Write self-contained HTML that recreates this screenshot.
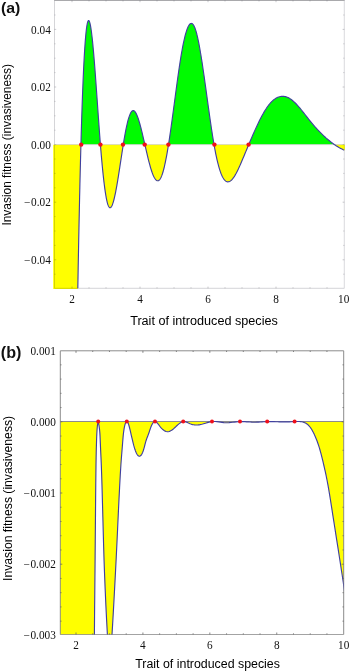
<!DOCTYPE html>
<html lang="en"><head><meta charset="utf-8"><title>Invasion fitness</title>
<style>html,body{margin:0;padding:0;background:#fff}body{width:350px;height:671px;overflow:hidden}svg{display:block}.t{font-family:"Liberation Serif",serif;font-size:11.8px;fill:#111}.l{font-family:"Liberation Sans",sans-serif;font-size:12.3px;fill:#000}.p{font-family:"Liberation Sans",sans-serif;font-weight:700;font-size:15.8px;fill:#111}</style></head><body>
<svg width="350" height="671" viewBox="0 0 350 671">
<rect width="350" height="671" fill="#fff"/>
<clipPath id="ca"><rect x="54.5" y="0.5" width="289.8" height="287.8"/></clipPath>
<clipPath id="upa"><rect x="54.5" y="0.5" width="289.8" height="144.1"/></clipPath>
<clipPath id="dna"><rect x="53.2" y="144.6" width="291.6" height="144.4"/></clipPath>
<path d="M52.2 144.6 L77.6 144.6 L77.65 144.6 L77.7 144.6 L77.75 144.6 L77.8 144.6 L77.85 144.6 L77.9 144.6 L77.95 144.6 L78 144.6 L78.17 144.6 L78.35 144.6 L78.53 144.6 L78.7 144.6 L78.88 144.6 L79.05 144.6 L79.23 144.6 L79.4 144.6 L79.48 144.6 L79.55 144.6 L79.62 144.6 L79.7 144.6 L79.78 144.6 L79.85 144.6 L79.92 144.6 L80 144.6 L80.15 144.6 L80.3 144.6 L80.45 144.6 L80.6 144.6 L80.75 144.6 L80.9 144.6 L81.05 140.24 L81.2 135.03 L81.25 133.33 L81.3 131.64 L81.35 129.96 L81.4 128.3 L81.45 126.65 L81.5 125.02 L81.55 123.4 L81.6 121.8 L81.77 116.31 L81.95 110.99 L82.12 105.85 L82.3 100.89 L82.47 96.09 L82.65 91.47 L82.83 87.01 L83 82.72 L83.06 81.22 L83.12 79.75 L83.19 78.3 L83.25 76.87 L83.31 75.46 L83.38 74.07 L83.44 72.7 L83.5 71.35 L83.67 67.68 L83.85 64.16 L84.03 60.79 L84.2 57.58 L84.38 54.52 L84.55 51.6 L84.73 48.83 L84.9 46.21 L85.04 44.24 L85.18 42.36 L85.31 40.57 L85.45 38.86 L85.59 37.23 L85.72 35.69 L85.86 34.23 L86 32.84 L86.14 31.54 L86.28 30.31 L86.41 29.17 L86.55 28.1 L86.69 27.1 L86.82 26.18 L86.96 25.33 L87.1 24.56 L87.27 23.67 L87.45 22.9 L87.62 22.25 L87.8 21.7 L87.97 21.26 L88.15 20.93 L88.33 20.7 L88.5 20.57 L88.71 20.55 L88.92 20.68 L89.14 20.95 L89.35 21.35 L89.56 21.89 L89.78 22.56 L89.99 23.35 L90.2 24.27 L90.36 25.05 L90.53 25.9 L90.69 26.82 L90.85 27.81 L91.01 28.85 L91.17 29.96 L91.34 31.13 L91.5 32.36 L91.67 33.75 L91.85 35.2 L92.03 36.72 L92.2 38.29 L92.38 39.93 L92.55 41.62 L92.73 43.37 L92.9 45.17 L93.16 47.96 L93.43 50.86 L93.69 53.86 L93.95 56.96 L94.21 60.15 L94.47 63.41 L94.74 66.75 L95 70.16 L95.08 71.15 L95.15 72.14 L95.22 73.13 L95.3 74.13 L95.38 75.14 L95.45 76.15 L95.52 77.16 L95.6 78.18 L96.07 84.69 L96.55 91.32 L97.03 98.03 L97.5 104.77 L97.97 111.5 L98.45 118.18 L98.93 124.79 L99.4 131.27 L99.51 132.78 L99.62 134.28 L99.74 135.77 L99.85 137.25 L99.96 138.72 L100.08 140.18 L100.19 141.63 L100.3 143.06 L100.51 144.6 L100.72 144.6 L100.94 144.6 L101.15 144.6 L101.36 144.6 L101.58 144.6 L101.79 144.6 L102 144.6 L102.1 144.6 L102.2 144.6 L102.3 144.6 L102.4 144.6 L102.5 144.6 L102.6 144.6 L102.7 144.6 L102.8 144.6 L102.99 144.6 L103.17 144.6 L103.36 144.6 L103.55 144.6 L103.74 144.6 L103.92 144.6 L104.11 144.6 L104.3 144.6 L104.55 144.6 L104.8 144.6 L105.05 144.6 L105.3 144.6 L105.55 144.6 L105.8 144.6 L106.05 144.6 L106.3 144.6 L106.47 144.6 L106.65 144.6 L106.83 144.6 L107 144.6 L107.17 144.6 L107.35 144.6 L107.53 144.6 L107.7 144.6 L107.99 144.6 L108.28 144.6 L108.56 144.6 L108.85 144.6 L109.14 144.6 L109.42 144.6 L109.71 144.6 L110 144.6 L110.33 144.6 L110.65 144.6 L110.97 144.6 L111.3 144.6 L111.62 144.6 L111.95 144.6 L112.27 144.6 L112.6 144.6 L112.85 144.6 L113.1 144.6 L113.35 144.6 L113.6 144.6 L113.85 144.6 L114.1 144.6 L114.35 144.6 L114.6 144.6 L114.92 144.6 L115.25 144.6 L115.58 144.6 L115.9 144.6 L116.22 144.6 L116.55 144.6 L116.88 144.6 L117.2 144.6 L117.38 144.6 L117.55 144.6 L117.72 144.6 L117.9 144.6 L118.08 144.6 L118.25 144.6 L118.42 144.6 L118.6 144.6 L119.15 144.6 L119.7 144.6 L120.25 144.6 L120.8 144.6 L121.35 144.6 L121.9 144.6 L122.45 144.6 L123 144.6 L123.38 143.98 L123.75 141.69 L124.12 139.44 L124.5 137.25 L124.88 135.12 L125.25 133.06 L125.62 131.08 L126 129.17 L126.5 126.76 L127 124.51 L127.5 122.41 L128 120.48 L128.5 118.71 L129 117.11 L129.5 115.68 L130 114.41 L130.38 113.58 L130.75 112.85 L131.12 112.22 L131.5 111.69 L131.88 111.26 L132.25 110.93 L132.62 110.71 L133 110.6 L133.44 110.6 L133.88 110.74 L134.31 111.02 L134.75 111.43 L135.19 111.96 L135.62 112.61 L136.06 113.37 L136.5 114.24 L137.06 115.51 L137.62 116.95 L138.19 118.52 L138.75 120.24 L139.31 122.08 L139.88 124.03 L140.44 126.09 L141 128.23 L141.46 130.06 L141.93 131.93 L142.39 133.84 L142.85 135.79 L143.31 137.77 L143.77 139.77 L144.24 141.78 L144.7 143.81 L145.4 144.6 L146.1 144.6 L146.8 144.6 L147.5 144.6 L148.2 144.6 L148.9 144.6 L149.6 144.6 L150.3 144.6 L150.76 144.6 L151.23 144.6 L151.69 144.6 L152.15 144.6 L152.61 144.6 L153.07 144.6 L153.54 144.6 L154 144.6 L154.45 144.6 L154.9 144.6 L155.35 144.6 L155.8 144.6 L156.25 144.6 L156.7 144.6 L157.15 144.6 L157.6 144.6 L158.03 144.6 L158.45 144.6 L158.88 144.6 L159.3 144.6 L159.72 144.6 L160.15 144.6 L160.57 144.6 L161 144.6 L161.47 144.6 L161.95 144.6 L162.43 144.6 L162.9 144.6 L163.38 144.6 L163.85 144.6 L164.33 144.6 L164.8 144.6 L165.25 144.6 L165.7 144.6 L166.15 144.6 L166.6 144.6 L167.05 144.6 L167.5 144.6 L167.95 144.6 L168.4 144.6 L168.9 142.08 L169.4 138.81 L169.9 135.45 L170.4 132.02 L170.9 128.51 L171.4 124.95 L171.9 121.33 L172.4 117.66 L172.85 114.34 L173.3 110.98 L173.75 107.62 L174.2 104.24 L174.65 100.86 L175.1 97.48 L175.55 94.11 L176 90.76 L176.2 89.27 L176.4 87.8 L176.6 86.32 L176.8 84.85 L177 83.39 L177.2 81.93 L177.4 80.49 L177.6 79.05 L178.15 75.13 L178.7 71.3 L179.25 67.55 L179.8 63.9 L180.35 60.36 L180.9 56.94 L181.45 53.66 L182 50.52 L182.62 47.14 L183.25 43.97 L183.88 41 L184.5 38.26 L185.12 35.73 L185.75 33.42 L186.38 31.34 L187 29.5 L187.5 28.19 L188 27.03 L188.5 26.04 L189 25.2 L189.5 24.51 L190 23.99 L190.5 23.64 L191 23.45 L191.56 23.44 L192.12 23.65 L192.69 24.07 L193.25 24.72 L193.81 25.6 L194.38 26.7 L194.94 28.03 L195.5 29.6 L196.14 31.67 L196.78 34.02 L197.41 36.65 L198.05 39.53 L198.69 42.64 L199.32 45.98 L199.96 49.52 L200.6 53.24 L201.07 56.13 L201.55 59.1 L202.03 62.15 L202.5 65.28 L202.97 68.46 L203.45 71.71 L203.93 75 L204.4 78.34 L205.05 82.97 L205.7 87.65 L206.35 92.36 L207 97.09 L207.65 101.82 L208.3 106.53 L208.95 111.2 L209.6 115.83 L210.2 120.03 L210.8 124.17 L211.4 128.22 L212 132.16 L212.6 136 L213.2 139.71 L213.8 143.28 L214.4 144.6 L214.72 144.6 L215.05 144.6 L215.38 144.6 L215.7 144.6 L216.03 144.6 L216.35 144.6 L216.68 144.6 L217 144.6 L217.5 144.6 L218 144.6 L218.5 144.6 L219 144.6 L219.5 144.6 L220 144.6 L220.5 144.6 L221 144.6 L221.44 144.6 L221.88 144.6 L222.31 144.6 L222.75 144.6 L223.19 144.6 L223.62 144.6 L224.06 144.6 L224.5 144.6 L224.94 144.6 L225.38 144.6 L225.81 144.6 L226.25 144.6 L226.69 144.6 L227.12 144.6 L227.56 144.6 L228 144.6 L228.5 144.6 L229 144.6 L229.5 144.6 L230 144.6 L230.5 144.6 L231 144.6 L231.5 144.6 L232 144.6 L232.75 144.6 L233.5 144.6 L234.25 144.6 L235 144.6 L235.75 144.6 L236.5 144.6 L237.25 144.6 L238 144.6 L238.62 144.6 L239.25 144.6 L239.88 144.6 L240.5 144.6 L241.12 144.6 L241.75 144.6 L242.38 144.6 L243 144.6 L243.7 144.6 L244.4 144.6 L245.1 144.6 L245.8 144.6 L246.5 144.6 L247.2 144.6 L247.9 144.6 L248.6 144.6 L249.62 142.48 L250.65 140.06 L251.68 137.66 L252.7 135.29 L253.72 132.95 L254.75 130.64 L255.78 128.37 L256.8 126.15 L257.15 125.4 L257.5 124.66 L257.85 123.92 L258.2 123.19 L258.55 122.47 L258.9 121.75 L259.25 121.04 L259.6 120.34 L260.78 118.03 L261.95 115.81 L263.12 113.69 L264.3 111.66 L265.48 109.75 L266.65 107.95 L267.82 106.27 L269 104.72 L269.75 103.8 L270.5 102.93 L271.25 102.12 L272 101.37 L272.75 100.67 L273.5 100.02 L274.25 99.42 L275 98.88 L275.93 98.29 L276.85 97.77 L277.77 97.33 L278.7 96.97 L279.62 96.69 L280.55 96.49 L281.47 96.36 L282.4 96.31 L283.35 96.33 L284.3 96.44 L285.25 96.62 L286.2 96.88 L287.15 97.21 L288.1 97.62 L289.05 98.11 L290 98.67 L291.25 99.53 L292.5 100.49 L293.75 101.57 L295 102.75 L296.25 104.01 L297.5 105.35 L298.75 106.76 L300 108.23 L301.25 109.75 L302.5 111.3 L303.75 112.88 L305 114.48 L306.25 116.08 L307.5 117.68 L308.75 119.27 L310 120.84 L311.25 122.38 L312.5 123.88 L313.75 125.35 L315 126.78 L316.25 128.18 L317.5 129.55 L318.75 130.88 L320 132.18 L321.25 133.45 L322.5 134.67 L323.75 135.87 L325 137.02 L326.25 138.15 L327.5 139.23 L328.75 140.28 L330 141.29 L330.55 141.73 L331.1 142.16 L331.65 142.58 L332.2 142.99 L332.75 143.39 L333.3 143.79 L333.85 144.18 L334.4 144.57 L335.66 144.6 L336.92 144.6 L338.19 144.6 L339.45 144.6 L340.71 144.6 L341.98 144.6 L343.24 144.6 L344.5 144.6 L345.8 144.6 L345.8 144.6 L52.2 144.6 Z" fill="#00fb00" clip-path="url(#upa)"/>
<path d="M52.2 300.42 L77.6 300.42 L77.65 297.51 L77.7 294.62 L77.75 291.74 L77.8 288.88 L77.85 286.04 L77.9 283.22 L77.95 280.42 L78 277.64 L78.17 268.04 L78.35 258.65 L78.53 249.49 L78.7 240.54 L78.88 231.8 L79.05 223.28 L79.23 214.97 L79.4 206.86 L79.48 203.45 L79.55 200.07 L79.62 196.74 L79.7 193.44 L79.78 190.18 L79.85 186.95 L79.92 183.76 L80 180.61 L80.15 174.42 L80.3 168.37 L80.45 162.46 L80.6 156.7 L80.75 151.07 L80.9 145.59 L81.05 144.6 L81.2 144.6 L81.25 144.6 L81.3 144.6 L81.35 144.6 L81.4 144.6 L81.45 144.6 L81.5 144.6 L81.55 144.6 L81.6 144.6 L81.77 144.6 L81.95 144.6 L82.12 144.6 L82.3 144.6 L82.47 144.6 L82.65 144.6 L82.83 144.6 L83 144.6 L83.06 144.6 L83.12 144.6 L83.19 144.6 L83.25 144.6 L83.31 144.6 L83.38 144.6 L83.44 144.6 L83.5 144.6 L83.67 144.6 L83.85 144.6 L84.03 144.6 L84.2 144.6 L84.38 144.6 L84.55 144.6 L84.73 144.6 L84.9 144.6 L85.04 144.6 L85.18 144.6 L85.31 144.6 L85.45 144.6 L85.59 144.6 L85.72 144.6 L85.86 144.6 L86 144.6 L86.14 144.6 L86.28 144.6 L86.41 144.6 L86.55 144.6 L86.69 144.6 L86.82 144.6 L86.96 144.6 L87.1 144.6 L87.27 144.6 L87.45 144.6 L87.62 144.6 L87.8 144.6 L87.97 144.6 L88.15 144.6 L88.33 144.6 L88.5 144.6 L88.71 144.6 L88.92 144.6 L89.14 144.6 L89.35 144.6 L89.56 144.6 L89.78 144.6 L89.99 144.6 L90.2 144.6 L90.36 144.6 L90.53 144.6 L90.69 144.6 L90.85 144.6 L91.01 144.6 L91.17 144.6 L91.34 144.6 L91.5 144.6 L91.67 144.6 L91.85 144.6 L92.03 144.6 L92.2 144.6 L92.38 144.6 L92.55 144.6 L92.73 144.6 L92.9 144.6 L93.16 144.6 L93.43 144.6 L93.69 144.6 L93.95 144.6 L94.21 144.6 L94.47 144.6 L94.74 144.6 L95 144.6 L95.08 144.6 L95.15 144.6 L95.22 144.6 L95.3 144.6 L95.38 144.6 L95.45 144.6 L95.52 144.6 L95.6 144.6 L96.07 144.6 L96.55 144.6 L97.03 144.6 L97.5 144.6 L97.97 144.6 L98.45 144.6 L98.93 144.6 L99.4 144.6 L99.51 144.6 L99.62 144.6 L99.74 144.6 L99.85 144.6 L99.96 144.6 L100.08 144.6 L100.19 144.6 L100.3 144.6 L100.51 145.73 L100.72 148.36 L100.94 150.93 L101.15 153.46 L101.36 155.93 L101.58 158.36 L101.79 160.73 L102 163.05 L102.1 164.13 L102.2 165.19 L102.3 166.24 L102.4 167.28 L102.5 168.31 L102.6 169.33 L102.7 170.33 L102.8 171.33 L102.99 173.15 L103.17 174.94 L103.36 176.68 L103.55 178.38 L103.74 180.04 L103.92 181.65 L104.11 183.21 L104.3 184.73 L104.55 186.69 L104.8 188.57 L105.05 190.36 L105.3 192.07 L105.55 193.69 L105.8 195.23 L106.05 196.68 L106.3 198.04 L106.47 198.95 L106.65 199.81 L106.83 200.62 L107 201.39 L107.17 202.12 L107.35 202.8 L107.53 203.43 L107.7 204.02 L107.99 204.89 L108.28 205.64 L108.56 206.27 L108.85 206.78 L109.14 207.18 L109.42 207.47 L109.71 207.66 L110 207.73 L110.33 207.7 L110.65 207.53 L110.97 207.25 L111.3 206.84 L111.62 206.33 L111.95 205.7 L112.27 204.96 L112.6 204.12 L112.85 203.4 L113.1 202.63 L113.35 201.8 L113.6 200.92 L113.85 199.99 L114.1 199.01 L114.35 197.98 L114.6 196.91 L114.92 195.44 L115.25 193.91 L115.58 192.31 L115.9 190.64 L116.22 188.91 L116.55 187.13 L116.88 185.3 L117.2 183.42 L117.38 182.39 L117.55 181.35 L117.72 180.3 L117.9 179.23 L118.08 178.16 L118.25 177.07 L118.42 175.98 L118.6 174.88 L119.15 171.37 L119.7 167.8 L120.25 164.2 L120.8 160.58 L121.35 156.97 L121.9 153.37 L122.45 149.82 L123 146.32 L123.38 144.6 L123.75 144.6 L124.12 144.6 L124.5 144.6 L124.88 144.6 L125.25 144.6 L125.62 144.6 L126 144.6 L126.5 144.6 L127 144.6 L127.5 144.6 L128 144.6 L128.5 144.6 L129 144.6 L129.5 144.6 L130 144.6 L130.38 144.6 L130.75 144.6 L131.12 144.6 L131.5 144.6 L131.88 144.6 L132.25 144.6 L132.62 144.6 L133 144.6 L133.44 144.6 L133.88 144.6 L134.31 144.6 L134.75 144.6 L135.19 144.6 L135.62 144.6 L136.06 144.6 L136.5 144.6 L137.06 144.6 L137.62 144.6 L138.19 144.6 L138.75 144.6 L139.31 144.6 L139.88 144.6 L140.44 144.6 L141 144.6 L141.46 144.6 L141.93 144.6 L142.39 144.6 L142.85 144.6 L143.31 144.6 L143.77 144.6 L144.24 144.6 L144.7 144.6 L145.4 146.88 L146.1 149.93 L146.8 152.95 L147.5 155.91 L148.2 158.79 L148.9 161.57 L149.6 164.22 L150.3 166.73 L150.76 168.3 L151.23 169.79 L151.69 171.21 L152.15 172.54 L152.61 173.78 L153.07 174.93 L153.54 175.99 L154 176.96 L154.45 177.8 L154.9 178.54 L155.35 179.19 L155.8 179.73 L156.25 180.16 L156.7 180.49 L157.15 180.7 L157.6 180.79 L158.03 180.78 L158.45 180.65 L158.88 180.41 L159.3 180.06 L159.72 179.59 L160.15 179 L160.57 178.29 L161 177.46 L161.47 176.38 L161.95 175.15 L162.43 173.76 L162.9 172.23 L163.38 170.56 L163.85 168.75 L164.33 166.81 L164.8 164.74 L165.25 162.66 L165.7 160.47 L166.15 158.18 L166.6 155.78 L167.05 153.29 L167.5 150.7 L167.95 148.02 L168.4 145.25 L168.9 144.6 L169.4 144.6 L169.9 144.6 L170.4 144.6 L170.9 144.6 L171.4 144.6 L171.9 144.6 L172.4 144.6 L172.85 144.6 L173.3 144.6 L173.75 144.6 L174.2 144.6 L174.65 144.6 L175.1 144.6 L175.55 144.6 L176 144.6 L176.2 144.6 L176.4 144.6 L176.6 144.6 L176.8 144.6 L177 144.6 L177.2 144.6 L177.4 144.6 L177.6 144.6 L178.15 144.6 L178.7 144.6 L179.25 144.6 L179.8 144.6 L180.35 144.6 L180.9 144.6 L181.45 144.6 L182 144.6 L182.62 144.6 L183.25 144.6 L183.88 144.6 L184.5 144.6 L185.12 144.6 L185.75 144.6 L186.38 144.6 L187 144.6 L187.5 144.6 L188 144.6 L188.5 144.6 L189 144.6 L189.5 144.6 L190 144.6 L190.5 144.6 L191 144.6 L191.56 144.6 L192.12 144.6 L192.69 144.6 L193.25 144.6 L193.81 144.6 L194.38 144.6 L194.94 144.6 L195.5 144.6 L196.14 144.6 L196.78 144.6 L197.41 144.6 L198.05 144.6 L198.69 144.6 L199.32 144.6 L199.96 144.6 L200.6 144.6 L201.07 144.6 L201.55 144.6 L202.03 144.6 L202.5 144.6 L202.97 144.6 L203.45 144.6 L203.93 144.6 L204.4 144.6 L205.05 144.6 L205.7 144.6 L206.35 144.6 L207 144.6 L207.65 144.6 L208.3 144.6 L208.95 144.6 L209.6 144.6 L210.2 144.6 L210.8 144.6 L211.4 144.6 L212 144.6 L212.6 144.6 L213.2 144.6 L213.8 144.6 L214.4 146.69 L214.72 148.48 L215.05 150.21 L215.38 151.89 L215.7 153.53 L216.03 155.11 L216.35 156.65 L216.68 158.14 L217 159.59 L217.5 161.71 L218 163.72 L218.5 165.62 L219 167.41 L219.5 169.09 L220 170.65 L220.5 172.11 L221 173.45 L221.44 174.54 L221.88 175.54 L222.31 176.46 L222.75 177.3 L223.19 178.07 L223.62 178.76 L224.06 179.38 L224.5 179.92 L224.94 180.39 L225.38 180.79 L225.81 181.13 L226.25 181.4 L226.69 181.6 L227.12 181.74 L227.56 181.82 L228 181.84 L228.5 181.79 L229 181.67 L229.5 181.48 L230 181.22 L230.5 180.89 L231 180.5 L231.5 180.05 L232 179.54 L232.75 178.67 L233.5 177.68 L234.25 176.58 L235 175.37 L235.75 174.08 L236.5 172.69 L237.25 171.23 L238 169.7 L238.62 168.38 L239.25 167.02 L239.88 165.63 L240.5 164.21 L241.12 162.76 L241.75 161.3 L242.38 159.82 L243 158.33 L243.7 156.66 L244.4 154.99 L245.1 153.31 L245.8 151.63 L246.5 149.95 L247.2 148.27 L247.9 146.59 L248.6 144.92 L249.62 144.6 L250.65 144.6 L251.68 144.6 L252.7 144.6 L253.72 144.6 L254.75 144.6 L255.78 144.6 L256.8 144.6 L257.15 144.6 L257.5 144.6 L257.85 144.6 L258.2 144.6 L258.55 144.6 L258.9 144.6 L259.25 144.6 L259.6 144.6 L260.78 144.6 L261.95 144.6 L263.12 144.6 L264.3 144.6 L265.48 144.6 L266.65 144.6 L267.82 144.6 L269 144.6 L269.75 144.6 L270.5 144.6 L271.25 144.6 L272 144.6 L272.75 144.6 L273.5 144.6 L274.25 144.6 L275 144.6 L275.93 144.6 L276.85 144.6 L277.77 144.6 L278.7 144.6 L279.62 144.6 L280.55 144.6 L281.47 144.6 L282.4 144.6 L283.35 144.6 L284.3 144.6 L285.25 144.6 L286.2 144.6 L287.15 144.6 L288.1 144.6 L289.05 144.6 L290 144.6 L291.25 144.6 L292.5 144.6 L293.75 144.6 L295 144.6 L296.25 144.6 L297.5 144.6 L298.75 144.6 L300 144.6 L301.25 144.6 L302.5 144.6 L303.75 144.6 L305 144.6 L306.25 144.6 L307.5 144.6 L308.75 144.6 L310 144.6 L311.25 144.6 L312.5 144.6 L313.75 144.6 L315 144.6 L316.25 144.6 L317.5 144.6 L318.75 144.6 L320 144.6 L321.25 144.6 L322.5 144.6 L323.75 144.6 L325 144.6 L326.25 144.6 L327.5 144.6 L328.75 144.6 L330 144.6 L330.55 144.6 L331.1 144.6 L331.65 144.6 L332.2 144.6 L332.75 144.6 L333.3 144.6 L333.85 144.6 L334.4 144.6 L335.66 145.42 L336.92 146.23 L338.19 147.01 L339.45 147.75 L340.71 148.44 L341.98 149.1 L343.24 149.72 L344.5 150.3 L345.8 150.3 L345.8 144.6 L52.2 144.6 Z" fill="#ffff00" clip-path="url(#dna)"/>
<g fill="none" stroke="#cacace" stroke-width="0.8" style="mix-blend-mode:multiply">
<path d="M54.5 0.5V288.3H344.3"/><path d="M344.3 288.3V0.5" stroke-width="0.7"/>
</g>
<path d="M54.1 0.5H344.7" stroke="#a9a9ac" stroke-width="1" fill="none"/>
<path d="M72 288.3v-1.7 M72 0.5v1.7 M89 288.3v-1.0 M89 0.5v1.0 M106 288.3v-1.0 M106 0.5v1.0 M123 288.3v-1.0 M123 0.5v1.0 M140 288.3v-1.7 M140 0.5v1.7 M157 288.3v-1.0 M157 0.5v1.0 M174 288.3v-1.0 M174 0.5v1.0 M191 288.3v-1.0 M191 0.5v1.0 M208 288.3v-1.7 M208 0.5v1.7 M225 288.3v-1.0 M225 0.5v1.0 M242 288.3v-1.0 M242 0.5v1.0 M259 288.3v-1.0 M259 0.5v1.0 M276 288.3v-1.7 M276 0.5v1.7 M293 288.3v-1.0 M293 0.5v1.0 M310 288.3v-1.0 M310 0.5v1.0 M327 288.3v-1.0 M327 0.5v1.0 M54.5 274.2h1.0 M344.3 274.2h-1.0 M54.5 259.8h1.7 M344.3 259.8h-1.7 M54.5 245.4h1.0 M344.3 245.4h-1.0 M54.5 231h1.0 M344.3 231h-1.0 M54.5 216.6h1.0 M344.3 216.6h-1.0 M54.5 202.2h1.7 M344.3 202.2h-1.7 M54.5 187.8h1.0 M344.3 187.8h-1.0 M54.5 173.4h1.0 M344.3 173.4h-1.0 M54.5 159h1.0 M344.3 159h-1.0 M54.5 144.6h1.7 M344.3 144.6h-1.7 M54.5 130.2h1.0 M344.3 130.2h-1.0 M54.5 115.8h1.0 M344.3 115.8h-1.0 M54.5 101.4h1.0 M344.3 101.4h-1.0 M54.5 87h1.7 M344.3 87h-1.7 M54.5 72.6h1.0 M344.3 72.6h-1.0 M54.5 58.2h1.0 M344.3 58.2h-1.0 M54.5 43.8h1.0 M344.3 43.8h-1.0 M54.5 29.4h1.7 M344.3 29.4h-1.7 M54.5 15h1.0 M344.3 15h-1.0" stroke="#a8a8ae" stroke-width="0.6" fill="none" style="mix-blend-mode:multiply"/>
<path d="M54.5 144.6H344.3" stroke="#a8a8a8" stroke-width="0.6" opacity="0.7" fill="none"/>
<path d="M77.6 300.42 L77.65 297.51 L77.7 294.62 L77.75 291.74 L77.8 288.88 L77.85 286.04 L77.9 283.22 L77.95 280.42 L78 277.64 L78.17 268.04 L78.35 258.65 L78.53 249.49 L78.7 240.54 L78.88 231.8 L79.05 223.28 L79.23 214.97 L79.4 206.86 L79.48 203.45 L79.55 200.07 L79.62 196.74 L79.7 193.44 L79.78 190.18 L79.85 186.95 L79.92 183.76 L80 180.61 L80.15 174.42 L80.3 168.37 L80.45 162.46 L80.6 156.7 L80.75 151.07 L80.9 145.59 L81.05 140.24 L81.2 135.03 L81.25 133.33 L81.3 131.64 L81.35 129.96 L81.4 128.3 L81.45 126.65 L81.5 125.02 L81.55 123.4 L81.6 121.8 L81.77 116.31 L81.95 110.99 L82.12 105.85 L82.3 100.89 L82.47 96.09 L82.65 91.47 L82.83 87.01 L83 82.72 L83.06 81.22 L83.12 79.75 L83.19 78.3 L83.25 76.87 L83.31 75.46 L83.38 74.07 L83.44 72.7 L83.5 71.35 L83.67 67.68 L83.85 64.16 L84.03 60.79 L84.2 57.58 L84.38 54.52 L84.55 51.6 L84.73 48.83 L84.9 46.21 L85.04 44.24 L85.18 42.36 L85.31 40.57 L85.45 38.86 L85.59 37.23 L85.72 35.69 L85.86 34.23 L86 32.84 L86.14 31.54 L86.28 30.31 L86.41 29.17 L86.55 28.1 L86.69 27.1 L86.82 26.18 L86.96 25.33 L87.1 24.56 L87.27 23.67 L87.45 22.9 L87.62 22.25 L87.8 21.7 L87.97 21.26 L88.15 20.93 L88.33 20.7 L88.5 20.57 L88.71 20.55 L88.92 20.68 L89.14 20.95 L89.35 21.35 L89.56 21.89 L89.78 22.56 L89.99 23.35 L90.2 24.27 L90.36 25.05 L90.53 25.9 L90.69 26.82 L90.85 27.81 L91.01 28.85 L91.17 29.96 L91.34 31.13 L91.5 32.36 L91.67 33.75 L91.85 35.2 L92.03 36.72 L92.2 38.29 L92.38 39.93 L92.55 41.62 L92.73 43.37 L92.9 45.17 L93.16 47.96 L93.43 50.86 L93.69 53.86 L93.95 56.96 L94.21 60.15 L94.47 63.41 L94.74 66.75 L95 70.16 L95.08 71.15 L95.15 72.14 L95.22 73.13 L95.3 74.13 L95.38 75.14 L95.45 76.15 L95.52 77.16 L95.6 78.18 L96.07 84.69 L96.55 91.32 L97.03 98.03 L97.5 104.77 L97.97 111.5 L98.45 118.18 L98.93 124.79 L99.4 131.27 L99.51 132.78 L99.62 134.28 L99.74 135.77 L99.85 137.25 L99.96 138.72 L100.08 140.18 L100.19 141.63 L100.3 143.06 L100.51 145.73 L100.72 148.36 L100.94 150.93 L101.15 153.46 L101.36 155.93 L101.58 158.36 L101.79 160.73 L102 163.05 L102.1 164.13 L102.2 165.19 L102.3 166.24 L102.4 167.28 L102.5 168.31 L102.6 169.33 L102.7 170.33 L102.8 171.33 L102.99 173.15 L103.17 174.94 L103.36 176.68 L103.55 178.38 L103.74 180.04 L103.92 181.65 L104.11 183.21 L104.3 184.73 L104.55 186.69 L104.8 188.57 L105.05 190.36 L105.3 192.07 L105.55 193.69 L105.8 195.23 L106.05 196.68 L106.3 198.04 L106.47 198.95 L106.65 199.81 L106.83 200.62 L107 201.39 L107.17 202.12 L107.35 202.8 L107.53 203.43 L107.7 204.02 L107.99 204.89 L108.28 205.64 L108.56 206.27 L108.85 206.78 L109.14 207.18 L109.42 207.47 L109.71 207.66 L110 207.73 L110.33 207.7 L110.65 207.53 L110.97 207.25 L111.3 206.84 L111.62 206.33 L111.95 205.7 L112.27 204.96 L112.6 204.12 L112.85 203.4 L113.1 202.63 L113.35 201.8 L113.6 200.92 L113.85 199.99 L114.1 199.01 L114.35 197.98 L114.6 196.91 L114.92 195.44 L115.25 193.91 L115.58 192.31 L115.9 190.64 L116.22 188.91 L116.55 187.13 L116.88 185.3 L117.2 183.42 L117.38 182.39 L117.55 181.35 L117.72 180.3 L117.9 179.23 L118.08 178.16 L118.25 177.07 L118.42 175.98 L118.6 174.88 L119.15 171.37 L119.7 167.8 L120.25 164.2 L120.8 160.58 L121.35 156.97 L121.9 153.37 L122.45 149.82 L123 146.32 L123.38 143.98 L123.75 141.69 L124.12 139.44 L124.5 137.25 L124.88 135.12 L125.25 133.06 L125.62 131.08 L126 129.17 L126.5 126.76 L127 124.51 L127.5 122.41 L128 120.48 L128.5 118.71 L129 117.11 L129.5 115.68 L130 114.41 L130.38 113.58 L130.75 112.85 L131.12 112.22 L131.5 111.69 L131.88 111.26 L132.25 110.93 L132.62 110.71 L133 110.6 L133.44 110.6 L133.88 110.74 L134.31 111.02 L134.75 111.43 L135.19 111.96 L135.62 112.61 L136.06 113.37 L136.5 114.24 L137.06 115.51 L137.62 116.95 L138.19 118.52 L138.75 120.24 L139.31 122.08 L139.88 124.03 L140.44 126.09 L141 128.23 L141.46 130.06 L141.93 131.93 L142.39 133.84 L142.85 135.79 L143.31 137.77 L143.77 139.77 L144.24 141.78 L144.7 143.81 L145.4 146.88 L146.1 149.93 L146.8 152.95 L147.5 155.91 L148.2 158.79 L148.9 161.57 L149.6 164.22 L150.3 166.73 L150.76 168.3 L151.23 169.79 L151.69 171.21 L152.15 172.54 L152.61 173.78 L153.07 174.93 L153.54 175.99 L154 176.96 L154.45 177.8 L154.9 178.54 L155.35 179.19 L155.8 179.73 L156.25 180.16 L156.7 180.49 L157.15 180.7 L157.6 180.79 L158.03 180.78 L158.45 180.65 L158.88 180.41 L159.3 180.06 L159.72 179.59 L160.15 179 L160.57 178.29 L161 177.46 L161.47 176.38 L161.95 175.15 L162.43 173.76 L162.9 172.23 L163.38 170.56 L163.85 168.75 L164.33 166.81 L164.8 164.74 L165.25 162.66 L165.7 160.47 L166.15 158.18 L166.6 155.78 L167.05 153.29 L167.5 150.7 L167.95 148.02 L168.4 145.25 L168.9 142.08 L169.4 138.81 L169.9 135.45 L170.4 132.02 L170.9 128.51 L171.4 124.95 L171.9 121.33 L172.4 117.66 L172.85 114.34 L173.3 110.98 L173.75 107.62 L174.2 104.24 L174.65 100.86 L175.1 97.48 L175.55 94.11 L176 90.76 L176.2 89.27 L176.4 87.8 L176.6 86.32 L176.8 84.85 L177 83.39 L177.2 81.93 L177.4 80.49 L177.6 79.05 L178.15 75.13 L178.7 71.3 L179.25 67.55 L179.8 63.9 L180.35 60.36 L180.9 56.94 L181.45 53.66 L182 50.52 L182.62 47.14 L183.25 43.97 L183.88 41 L184.5 38.26 L185.12 35.73 L185.75 33.42 L186.38 31.34 L187 29.5 L187.5 28.19 L188 27.03 L188.5 26.04 L189 25.2 L189.5 24.51 L190 23.99 L190.5 23.64 L191 23.45 L191.56 23.44 L192.12 23.65 L192.69 24.07 L193.25 24.72 L193.81 25.6 L194.38 26.7 L194.94 28.03 L195.5 29.6 L196.14 31.67 L196.78 34.02 L197.41 36.65 L198.05 39.53 L198.69 42.64 L199.32 45.98 L199.96 49.52 L200.6 53.24 L201.07 56.13 L201.55 59.1 L202.03 62.15 L202.5 65.28 L202.97 68.46 L203.45 71.71 L203.93 75 L204.4 78.34 L205.05 82.97 L205.7 87.65 L206.35 92.36 L207 97.09 L207.65 101.82 L208.3 106.53 L208.95 111.2 L209.6 115.83 L210.2 120.03 L210.8 124.17 L211.4 128.22 L212 132.16 L212.6 136 L213.2 139.71 L213.8 143.28 L214.4 146.69 L214.72 148.48 L215.05 150.21 L215.38 151.89 L215.7 153.53 L216.03 155.11 L216.35 156.65 L216.68 158.14 L217 159.59 L217.5 161.71 L218 163.72 L218.5 165.62 L219 167.41 L219.5 169.09 L220 170.65 L220.5 172.11 L221 173.45 L221.44 174.54 L221.88 175.54 L222.31 176.46 L222.75 177.3 L223.19 178.07 L223.62 178.76 L224.06 179.38 L224.5 179.92 L224.94 180.39 L225.38 180.79 L225.81 181.13 L226.25 181.4 L226.69 181.6 L227.12 181.74 L227.56 181.82 L228 181.84 L228.5 181.79 L229 181.67 L229.5 181.48 L230 181.22 L230.5 180.89 L231 180.5 L231.5 180.05 L232 179.54 L232.75 178.67 L233.5 177.68 L234.25 176.58 L235 175.37 L235.75 174.08 L236.5 172.69 L237.25 171.23 L238 169.7 L238.62 168.38 L239.25 167.02 L239.88 165.63 L240.5 164.21 L241.12 162.76 L241.75 161.3 L242.38 159.82 L243 158.33 L243.7 156.66 L244.4 154.99 L245.1 153.31 L245.8 151.63 L246.5 149.95 L247.2 148.27 L247.9 146.59 L248.6 144.92 L249.62 142.48 L250.65 140.06 L251.68 137.66 L252.7 135.29 L253.72 132.95 L254.75 130.64 L255.78 128.37 L256.8 126.15 L257.15 125.4 L257.5 124.66 L257.85 123.92 L258.2 123.19 L258.55 122.47 L258.9 121.75 L259.25 121.04 L259.6 120.34 L260.78 118.03 L261.95 115.81 L263.12 113.69 L264.3 111.66 L265.48 109.75 L266.65 107.95 L267.82 106.27 L269 104.72 L269.75 103.8 L270.5 102.93 L271.25 102.12 L272 101.37 L272.75 100.67 L273.5 100.02 L274.25 99.42 L275 98.88 L275.93 98.29 L276.85 97.77 L277.77 97.33 L278.7 96.97 L279.62 96.69 L280.55 96.49 L281.47 96.36 L282.4 96.31 L283.35 96.33 L284.3 96.44 L285.25 96.62 L286.2 96.88 L287.15 97.21 L288.1 97.62 L289.05 98.11 L290 98.67 L291.25 99.53 L292.5 100.49 L293.75 101.57 L295 102.75 L296.25 104.01 L297.5 105.35 L298.75 106.76 L300 108.23 L301.25 109.75 L302.5 111.3 L303.75 112.88 L305 114.48 L306.25 116.08 L307.5 117.68 L308.75 119.27 L310 120.84 L311.25 122.38 L312.5 123.88 L313.75 125.35 L315 126.78 L316.25 128.18 L317.5 129.55 L318.75 130.88 L320 132.18 L321.25 133.45 L322.5 134.67 L323.75 135.87 L325 137.02 L326.25 138.15 L327.5 139.23 L328.75 140.28 L330 141.29 L330.55 141.73 L331.1 142.16 L331.65 142.58 L332.2 142.99 L332.75 143.39 L333.3 143.79 L333.85 144.18 L334.4 144.57 L335.66 145.42 L336.92 146.23 L338.19 147.01 L339.45 147.75 L340.71 148.44 L341.98 149.1 L343.24 149.72 L344.5 150.3" fill="none" stroke="#4040a0" stroke-width="1.15" stroke-linejoin="round" clip-path="url(#ca)"/>
<circle cx="81.2" cy="144.6" r="2.2" fill="#f0101a"/>
<circle cx="100.4" cy="144.6" r="2.2" fill="#f0101a"/>
<circle cx="123" cy="144.6" r="2.2" fill="#f0101a"/>
<circle cx="144.7" cy="144.6" r="2.2" fill="#f0101a"/>
<circle cx="168.4" cy="144.6" r="2.2" fill="#f0101a"/>
<circle cx="214.4" cy="144.6" r="2.2" fill="#f0101a"/>
<circle cx="248.6" cy="144.6" r="2.2" fill="#f0101a"/>
<text class="t" x="31.08" y="33.6" textLength="19.72" lengthAdjust="spacingAndGlyphs">0.04</text>
<text class="t" x="31.08" y="91.2" textLength="19.72" lengthAdjust="spacingAndGlyphs">0.02</text>
<text class="t" x="31.08" y="148.8" textLength="19.72" lengthAdjust="spacingAndGlyphs">0.00</text>
<text class="t" x="24.12" y="206.4" textLength="6.36" lengthAdjust="spacingAndGlyphs">−</text><text class="t" x="31.08" y="206.4" textLength="19.72" lengthAdjust="spacingAndGlyphs">0.02</text>
<text class="t" x="24.12" y="264" textLength="6.36" lengthAdjust="spacingAndGlyphs">−</text><text class="t" x="31.08" y="264" textLength="19.72" lengthAdjust="spacingAndGlyphs">0.04</text>
<text class="t" x="69.18" y="303.2" textLength="5.63" lengthAdjust="spacingAndGlyphs">2</text>
<text class="t" x="137.18" y="303.2" textLength="5.63" lengthAdjust="spacingAndGlyphs">4</text>
<text class="t" x="205.18" y="303.2" textLength="5.63" lengthAdjust="spacingAndGlyphs">6</text>
<text class="t" x="273.18" y="303.2" textLength="5.63" lengthAdjust="spacingAndGlyphs">8</text>
<text class="t" x="338.07" y="303.2" textLength="11.27" lengthAdjust="spacingAndGlyphs">10</text>
<text class="l" x="204" y="324.6" text-anchor="middle" textLength="147.7" lengthAdjust="spacingAndGlyphs">Trait of introduced species</text>
<text class="l" transform="translate(10.9 144.8) rotate(-90)" text-anchor="middle" textLength="161.6" lengthAdjust="spacingAndGlyphs">Invasion fitness (invasiveness)</text>
<text class="p" style="font-size:15.3px" x="0.9" y="13" textLength="19.4" lengthAdjust="spacingAndGlyphs">(a)</text>
<clipPath id="cb"><rect x="60.3" y="350.8" width="283.4" height="283.7"/></clipPath>
<clipPath id="upb"><rect x="60.3" y="350.8" width="283.4" height="70.7"/></clipPath>
<clipPath id="dnb"><rect x="60" y="421.5" width="284" height="213.2"/></clipPath>
<path d="M59 421.5 L93.9 421.5 L93.96 421.5 L94.03 421.5 L94.09 421.5 L94.15 421.5 L94.21 421.5 L94.28 421.5 L94.34 421.5 L94.4 421.5 L94.48 421.5 L94.55 421.5 L94.62 421.5 L94.7 421.5 L94.78 421.5 L94.85 421.5 L94.92 421.5 L95 421.5 L95.12 421.5 L95.25 421.5 L95.38 421.5 L95.5 421.5 L95.62 421.5 L95.75 421.5 L95.88 421.5 L96 421.5 L96.04 421.5 L96.08 421.5 L96.11 421.5 L96.15 421.5 L96.19 421.5 L96.22 421.5 L96.26 421.5 L96.3 421.5 L96.38 421.5 L96.45 421.5 L96.53 421.5 L96.6 421.5 L96.67 421.5 L96.75 421.5 L96.83 421.5 L96.9 421.5 L96.98 421.5 L97.05 421.5 L97.12 421.5 L97.2 421.5 L97.28 421.5 L97.35 421.5 L97.42 421.5 L97.5 421.5 L97.59 421.5 L97.67 421.5 L97.76 421.5 L97.85 421.5 L97.94 421.5 L98.03 421.5 L98.11 421.5 L98.2 421.5 L98.29 421.5 L98.38 421.5 L98.46 421.5 L98.55 421.5 L98.64 421.5 L98.73 421.5 L98.81 421.5 L98.9 421.5 L99.01 421.5 L99.12 421.5 L99.24 421.5 L99.35 421.5 L99.46 421.5 L99.58 421.5 L99.69 421.5 L99.8 421.5 L99.9 421.5 L100 421.5 L100.1 421.5 L100.2 421.5 L100.3 421.5 L100.4 421.5 L100.5 421.5 L100.6 421.5 L100.69 421.5 L100.77 421.5 L100.86 421.5 L100.95 421.5 L101.04 421.5 L101.12 421.5 L101.21 421.5 L101.3 421.5 L101.69 421.5 L102.08 421.5 L102.46 421.5 L102.85 421.5 L103.24 421.5 L103.62 421.5 L104.01 421.5 L104.4 421.5 L104.78 421.5 L105.15 421.5 L105.53 421.5 L105.9 421.5 L106.28 421.5 L106.65 421.5 L107.03 421.5 L107.4 421.5 L107.69 421.5 L107.98 421.5 L108.26 421.5 L108.55 421.5 L108.84 421.5 L109.12 421.5 L109.41 421.5 L109.7 421.5 L109.99 421.5 L110.28 421.5 L110.56 421.5 L110.85 421.5 L111.14 421.5 L111.42 421.5 L111.71 421.5 L112 421.5 L112.45 421.5 L112.9 421.5 L113.35 421.5 L113.8 421.5 L114.25 421.5 L114.7 421.5 L115.15 421.5 L115.6 421.5 L116.26 421.5 L116.92 421.5 L117.59 421.5 L118.25 421.5 L118.91 421.5 L119.58 421.5 L120.24 421.5 L120.9 421.5 L121.05 421.5 L121.2 421.5 L121.35 421.5 L121.5 421.5 L121.65 421.5 L121.8 421.5 L121.95 421.5 L122.1 421.5 L122.29 421.5 L122.47 421.5 L122.66 421.5 L122.85 421.5 L123.04 421.5 L123.22 421.5 L123.41 421.5 L123.6 421.5 L123.75 421.5 L123.9 421.5 L124.05 421.5 L124.2 421.5 L124.35 421.5 L124.5 421.5 L124.65 421.5 L124.8 421.5 L124.92 421.5 L125.05 421.5 L125.17 421.5 L125.3 421.5 L125.42 421.5 L125.55 421.5 L125.67 421.5 L125.8 421.5 L125.94 421.5 L126.08 421.5 L126.21 421.5 L126.35 421.5 L126.49 421.5 L126.62 421.5 L126.76 421.5 L126.9 421.5 L127.36 421.5 L127.83 421.5 L128.29 421.5 L128.75 421.5 L129.21 421.5 L129.68 421.5 L130.14 421.5 L130.6 421.5 L131.14 421.5 L131.68 421.5 L132.21 421.5 L132.75 421.5 L133.29 421.5 L133.82 421.5 L134.36 421.5 L134.9 421.5 L135.46 421.5 L136.03 421.5 L136.59 421.5 L137.15 421.5 L137.71 421.5 L138.28 421.5 L138.84 421.5 L139.4 421.5 L139.94 421.5 L140.47 421.5 L141.01 421.5 L141.55 421.5 L142.09 421.5 L142.62 421.5 L143.16 421.5 L143.7 421.5 L143.97 421.5 L144.25 421.5 L144.53 421.5 L144.8 421.5 L145.07 421.5 L145.35 421.5 L145.62 421.5 L145.9 421.5 L146.21 421.5 L146.53 421.5 L146.84 421.5 L147.15 421.5 L147.46 421.5 L147.78 421.5 L148.09 421.5 L148.4 421.5 L148.79 421.5 L149.18 421.5 L149.56 421.5 L149.95 421.5 L150.34 421.5 L150.72 421.5 L151.11 421.5 L151.5 421.5 L151.93 421.5 L152.35 421.5 L152.78 421.5 L153.2 421.5 L153.62 421.5 L154.05 421.5 L154.47 421.5 L154.9 421.5 L155.55 421.5 L156.2 421.5 L156.85 421.5 L157.5 421.5 L158.15 421.5 L158.8 421.5 L159.45 421.5 L160.1 421.5 L161.11 421.5 L162.12 421.5 L163.14 421.5 L164.15 421.5 L165.16 421.5 L166.17 421.5 L167.19 421.5 L168.2 421.5 L169.16 421.5 L170.12 421.5 L171.09 421.5 L172.05 421.5 L173.01 421.5 L173.97 421.5 L174.94 421.5 L175.9 421.5 L176.81 421.5 L177.72 421.5 L178.64 421.5 L179.55 421.5 L180.46 421.5 L181.38 421.5 L182.29 421.5 L183.2 421.5 L184.05 421.5 L184.9 421.5 L185.75 421.5 L186.6 421.5 L187.45 421.5 L188.3 421.5 L189.15 421.5 L190 421.5 L190.9 421.5 L191.8 421.5 L192.7 421.5 L193.6 421.5 L194.5 421.5 L195.4 421.5 L196.3 421.5 L197.2 421.5 L198.11 421.5 L199.02 421.5 L199.94 421.5 L200.85 421.5 L201.76 421.5 L202.68 421.5 L203.59 421.5 L204.5 421.5 L205.41 421.5 L206.32 421.5 L207.24 421.5 L208.15 421.5 L209.06 421.5 L209.98 421.5 L210.89 421.5 L211.8 421.5 L213.51 421.48 L215.23 421.5 L216.94 421.5 L218.65 421.5 L220.36 421.5 L222.07 421.5 L223.79 421.5 L225.5 421.5 L227.29 421.5 L229.07 421.5 L230.86 421.5 L232.65 421.5 L234.44 421.5 L236.23 421.5 L238.01 421.5 L239.8 421.5 L241.51 421.5 L243.23 421.5 L244.94 421.5 L246.65 421.5 L248.36 421.5 L250.07 421.5 L251.79 421.5 L253.5 421.5 L255.21 421.5 L256.93 421.5 L258.64 421.5 L260.35 421.5 L262.06 421.5 L263.77 421.5 L265.49 421.5 L267.2 421.5 L268.93 421.5 L270.65 421.5 L272.38 421.5 L274.1 421.5 L275.82 421.5 L277.55 421.5 L279.27 421.5 L281 421.5 L282.7 421.5 L284.4 421.5 L286.1 421.5 L287.8 421.5 L289.5 421.5 L291.2 421.5 L292.9 421.5 L294.6 421.5 L295.78 421.5 L296.95 421.5 L298.12 421.48 L299.3 421.5 L300.48 421.5 L301.65 421.5 L302.82 421.5 L304 421.5 L304.75 421.5 L305.5 421.5 L306.25 421.5 L307 421.5 L307.75 421.5 L308.5 421.5 L309.25 421.5 L310 421.5 L310.62 421.5 L311.25 421.5 L311.88 421.5 L312.5 421.5 L313.12 421.5 L313.75 421.5 L314.38 421.5 L315 421.5 L315.62 421.5 L316.25 421.5 L316.88 421.5 L317.5 421.5 L318.12 421.5 L318.75 421.5 L319.38 421.5 L320 421.5 L320.5 421.5 L321 421.5 L321.5 421.5 L322 421.5 L322.5 421.5 L323 421.5 L323.5 421.5 L324 421.5 L324.38 421.5 L324.75 421.5 L325.12 421.5 L325.5 421.5 L325.88 421.5 L326.25 421.5 L326.62 421.5 L327 421.5 L327.84 421.5 L328.68 421.5 L329.51 421.5 L330.35 421.5 L331.19 421.5 L332.02 421.5 L332.86 421.5 L333.7 421.5 L334.69 421.5 L335.68 421.5 L336.66 421.5 L337.65 421.5 L338.64 421.5 L339.62 421.5 L340.61 421.5 L341.6 421.5 L341.86 421.5 L342.12 421.5 L342.39 421.5 L342.65 421.5 L342.91 421.5 L343.18 421.5 L343.44 421.5 L343.7 421.5 L343.99 421.5 L344.27 421.5 L344.56 421.5 L344.85 421.5 L345.14 421.5 L345.43 421.5 L345.71 421.5 L346 421.5 L345 421.5 L345 421.5 L59 421.5 Z" fill="#00fb00" clip-path="url(#upb)"/>
<path d="M59 720 L93.9 720 L93.96 707.67 L94.03 695.7 L94.09 684.15 L94.15 673.07 L94.21 662.51 L94.28 652.52 L94.34 643.17 L94.4 634.5 L94.48 624.97 L94.55 616.2 L94.62 608.02 L94.7 600.27 L94.78 592.76 L94.85 585.32 L94.92 577.8 L95 570 L95.12 556.17 L95.25 541.62 L95.38 526.8 L95.5 512.16 L95.62 498.18 L95.75 485.3 L95.88 473.99 L96 464.7 L96.04 462.33 L96.08 460.08 L96.11 457.97 L96.15 455.98 L96.19 454.12 L96.22 452.39 L96.26 450.78 L96.3 449.3 L96.38 446.53 L96.45 443.91 L96.53 441.45 L96.6 439.18 L96.67 437.1 L96.75 435.23 L96.83 433.59 L96.9 432.2 L96.98 430.98 L97.05 429.85 L97.12 428.81 L97.2 427.86 L97.28 427 L97.35 426.24 L97.42 425.57 L97.5 425 L97.59 424.39 L97.67 423.78 L97.76 423.21 L97.85 422.69 L97.94 422.25 L98.03 421.9 L98.11 421.68 L98.2 421.6 L98.29 421.69 L98.38 421.93 L98.46 422.31 L98.55 422.78 L98.64 423.31 L98.73 423.88 L98.81 424.45 L98.9 425 L99.01 425.68 L99.12 426.39 L99.24 427.14 L99.35 427.95 L99.46 428.85 L99.58 429.84 L99.69 430.95 L99.8 432.2 L99.9 433.6 L100 435.38 L100.1 437.46 L100.2 439.76 L100.3 442.17 L100.4 444.63 L100.5 447.03 L100.6 449.3 L100.69 451.17 L100.77 453 L100.86 454.82 L100.95 456.66 L101.04 458.54 L101.12 460.49 L101.21 462.53 L101.3 464.7 L101.69 475.69 L102.08 488.47 L102.46 502.46 L102.85 517.06 L103.24 531.7 L103.62 545.79 L104.01 558.76 L104.4 570 L104.78 579.62 L105.15 588.75 L105.53 597.43 L105.9 605.66 L106.28 613.46 L106.65 620.86 L107.03 627.86 L107.4 634.5 L107.69 639.73 L107.98 645.3 L108.26 650.9 L108.55 656.2 L108.84 660.88 L109.12 664.62 L109.41 667.1 L109.7 668 L109.99 667.06 L110.28 664.48 L110.56 660.62 L110.85 655.83 L111.14 650.47 L111.42 644.89 L111.71 639.45 L112 634.5 L112.45 627.16 L112.9 619.52 L113.35 611.62 L113.8 603.52 L114.25 595.27 L114.7 586.89 L115.15 578.46 L115.6 570 L116.26 557.03 L116.92 543.26 L117.59 529.05 L118.25 514.79 L118.91 500.85 L119.58 487.61 L120.24 475.43 L120.9 464.7 L121.05 462.52 L121.2 460.46 L121.35 458.48 L121.5 456.58 L121.65 454.73 L121.8 452.91 L121.95 451.11 L122.1 449.3 L122.29 446.98 L122.47 444.61 L122.66 442.23 L122.85 439.9 L123.04 437.67 L123.22 435.61 L123.41 433.77 L123.6 432.2 L123.75 431.1 L123.9 430.05 L124.05 429.07 L124.2 428.16 L124.35 427.33 L124.5 426.57 L124.65 425.89 L124.8 425.3 L124.92 424.85 L125.05 424.43 L125.17 424.03 L125.3 423.67 L125.42 423.34 L125.55 423.04 L125.67 422.8 L125.8 422.6 L125.94 422.41 L126.08 422.23 L126.21 422.06 L126.35 421.91 L126.49 421.78 L126.62 421.69 L126.76 421.62 L126.9 421.6 L127.36 421.83 L127.83 422.5 L128.29 423.54 L128.75 424.88 L129.21 426.48 L129.68 428.27 L130.14 430.2 L130.6 432.2 L131.14 434.55 L131.68 436.89 L132.21 439.2 L132.75 441.45 L133.29 443.61 L133.82 445.66 L134.36 447.56 L134.9 449.3 L135.46 450.91 L136.03 452.31 L136.59 453.5 L137.15 454.47 L137.71 455.22 L138.28 455.76 L138.84 456.09 L139.4 456.2 L139.94 456.1 L140.47 455.8 L141.01 455.29 L141.55 454.56 L142.09 453.6 L142.62 452.41 L143.16 450.98 L143.7 449.3 L143.97 448.34 L144.25 447.34 L144.53 446.3 L144.8 445.24 L145.07 444.19 L145.35 443.15 L145.62 442.15 L145.9 441.2 L146.21 440.2 L146.53 439.27 L146.84 438.39 L147.15 437.56 L147.46 436.75 L147.78 435.95 L148.09 435.14 L148.4 434.3 L148.79 433.21 L149.18 432.09 L149.56 430.94 L149.95 429.79 L150.34 428.66 L150.72 427.57 L151.11 426.55 L151.5 425.6 L151.93 424.68 L152.35 423.87 L152.78 423.19 L153.2 422.64 L153.62 422.2 L154.05 421.88 L154.47 421.68 L154.9 421.6 L155.55 421.7 L156.2 422.03 L156.85 422.56 L157.5 423.23 L158.15 424.02 L158.8 424.87 L159.45 425.74 L160.1 426.6 L161.11 427.83 L162.12 428.91 L163.14 429.83 L164.15 430.57 L165.16 431.14 L166.17 431.53 L167.19 431.72 L168.2 431.7 L169.16 431.49 L170.12 431.12 L171.09 430.59 L172.05 429.95 L173.01 429.2 L173.97 428.38 L174.94 427.5 L175.9 426.6 L176.81 425.74 L177.72 424.89 L178.64 424.09 L179.55 423.36 L180.46 422.72 L181.38 422.2 L182.29 421.81 L183.2 421.6 L184.05 421.56 L184.9 421.67 L185.75 421.88 L186.6 422.18 L187.45 422.54 L188.3 422.93 L189.15 423.33 L190 423.7 L190.9 424.05 L191.8 424.34 L192.7 424.58 L193.6 424.76 L194.5 424.9 L195.4 424.98 L196.3 425.02 L197.2 425 L198.11 424.94 L199.02 424.83 L199.94 424.68 L200.85 424.49 L201.76 424.28 L202.68 424.04 L203.59 423.78 L204.5 423.5 L205.41 423.22 L206.32 422.93 L207.24 422.65 L208.15 422.38 L209.06 422.13 L209.98 421.91 L210.89 421.73 L211.8 421.6 L213.51 421.5 L215.23 421.51 L216.94 421.65 L218.65 421.87 L220.36 422.12 L222.07 422.36 L223.79 422.57 L225.5 422.7 L227.29 422.72 L229.07 422.64 L230.86 422.49 L232.65 422.3 L234.44 422.08 L236.23 421.88 L238.01 421.71 L239.8 421.6 L241.51 421.57 L243.23 421.61 L244.94 421.69 L246.65 421.81 L248.36 421.93 L250.07 422.05 L251.79 422.15 L253.5 422.2 L255.21 422.2 L256.93 422.15 L258.64 422.07 L260.35 421.97 L262.06 421.86 L263.77 421.75 L265.49 421.66 L267.2 421.6 L268.93 421.58 L270.65 421.59 L272.38 421.62 L274.1 421.67 L275.82 421.74 L277.55 421.8 L279.27 421.86 L281 421.9 L282.7 421.92 L284.4 421.92 L286.1 421.9 L287.8 421.87 L289.5 421.82 L291.2 421.75 L292.9 421.68 L294.6 421.6 L295.78 421.54 L296.95 421.5 L298.12 421.5 L299.3 421.51 L300.48 421.6 L301.65 421.77 L302.82 422.03 L304 422.4 L304.75 422.7 L305.5 423.06 L306.25 423.49 L307 424 L307.75 424.6 L308.5 425.29 L309.25 426.09 L310 427 L310.62 427.85 L311.25 428.79 L311.88 429.81 L312.5 430.9 L313.12 432.07 L313.75 433.31 L314.38 434.62 L315 436 L315.62 437.44 L316.25 438.95 L316.88 440.55 L317.5 442.23 L318.12 444 L318.75 445.89 L319.38 447.88 L320 450 L320.5 451.79 L321 453.65 L321.5 455.58 L322 457.57 L322.5 459.62 L323 461.71 L323.5 463.84 L324 466 L324.38 467.64 L324.75 469.3 L325.12 470.98 L325.5 472.7 L325.88 474.45 L326.25 476.25 L326.62 478.1 L327 480 L327.84 484.46 L328.68 489.2 L329.51 494.15 L330.35 499.28 L331.19 504.54 L332.02 509.9 L332.86 515.3 L333.7 520.7 L334.69 527.03 L335.68 533.32 L336.66 539.6 L337.65 545.87 L338.64 552.15 L339.62 558.48 L340.61 564.85 L341.6 571.3 L341.86 573.03 L342.12 574.76 L342.39 576.5 L342.65 578.25 L342.91 580 L343.18 581.76 L343.44 583.53 L343.7 585.3 L343.99 587.25 L344.27 589.2 L344.56 591.16 L344.85 593.12 L345.14 595.09 L345.43 597.06 L345.71 599.03 L346 601 L345 601 L345 421.5 L59 421.5 Z" fill="#ffff00" clip-path="url(#dnb)"/>
<g fill="none" stroke="#8c8c8c" stroke-width="1">
<path d="M60.3 634.5V350.8H343.7V634.5"/>
<path d="M60.3 421.5H343.7"/>
</g>
<path d="M60.3 634.5H343.7" stroke="#8c8c8c" stroke-width="0.8" fill="none"/>
<path d="M76 634.5v-2.0 M76 350.8v2.0 M92.73 634.5v-1.2 M92.73 350.8v1.2 M109.46 634.5v-1.2 M109.46 350.8v1.2 M126.19 634.5v-1.2 M126.19 350.8v1.2 M142.92 634.5v-2.0 M142.92 350.8v2.0 M159.65 634.5v-1.2 M159.65 350.8v1.2 M176.38 634.5v-1.2 M176.38 350.8v1.2 M193.11 634.5v-1.2 M193.11 350.8v1.2 M209.84 634.5v-2.0 M209.84 350.8v2.0 M226.57 634.5v-1.2 M226.57 350.8v1.2 M243.3 634.5v-1.2 M243.3 350.8v1.2 M260.03 634.5v-1.2 M260.03 350.8v1.2 M276.76 634.5v-2.0 M276.76 350.8v2.0 M293.49 634.5v-1.2 M293.49 350.8v1.2 M310.22 634.5v-1.2 M310.22 350.8v1.2 M326.95 634.5v-1.2 M326.95 350.8v1.2 M60.3 621.16h1.2 M343.7 621.16h-1.2 M60.3 606.92h1.2 M343.7 606.92h-1.2 M60.3 592.68h1.2 M343.7 592.68h-1.2 M60.3 578.44h1.2 M343.7 578.44h-1.2 M60.3 564.2h2.0 M343.7 564.2h-2.0 M60.3 549.96h1.2 M343.7 549.96h-1.2 M60.3 535.72h1.2 M343.7 535.72h-1.2 M60.3 521.48h1.2 M343.7 521.48h-1.2 M60.3 507.24h1.2 M343.7 507.24h-1.2 M60.3 493h2.0 M343.7 493h-2.0 M60.3 478.76h1.2 M343.7 478.76h-1.2 M60.3 464.52h1.2 M343.7 464.52h-1.2 M60.3 450.28h1.2 M343.7 450.28h-1.2 M60.3 436.04h1.2 M343.7 436.04h-1.2 M60.3 421.8h2.0 M343.7 421.8h-2.0 M60.3 407.56h1.2 M343.7 407.56h-1.2 M60.3 393.32h1.2 M343.7 393.32h-1.2 M60.3 379.08h1.2 M343.7 379.08h-1.2 M60.3 364.84h1.2 M343.7 364.84h-1.2" stroke="#606060" stroke-width="0.75" fill="none"/>
<path d="M93.9 720 L93.96 707.67 L94.03 695.7 L94.09 684.15 L94.15 673.07 L94.21 662.51 L94.28 652.52 L94.34 643.17 L94.4 634.5 L94.48 624.97 L94.55 616.2 L94.62 608.02 L94.7 600.27 L94.78 592.76 L94.85 585.32 L94.92 577.8 L95 570 L95.12 556.17 L95.25 541.62 L95.38 526.8 L95.5 512.16 L95.62 498.18 L95.75 485.3 L95.88 473.99 L96 464.7 L96.04 462.33 L96.08 460.08 L96.11 457.97 L96.15 455.98 L96.19 454.12 L96.22 452.39 L96.26 450.78 L96.3 449.3 L96.38 446.53 L96.45 443.91 L96.53 441.45 L96.6 439.18 L96.67 437.1 L96.75 435.23 L96.83 433.59 L96.9 432.2 L96.98 430.98 L97.05 429.85 L97.12 428.81 L97.2 427.86 L97.28 427 L97.35 426.24 L97.42 425.57 L97.5 425 L97.59 424.39 L97.67 423.78 L97.76 423.21 L97.85 422.69 L97.94 422.25 L98.03 421.9 L98.11 421.68 L98.2 421.6 L98.29 421.69 L98.38 421.93 L98.46 422.31 L98.55 422.78 L98.64 423.31 L98.73 423.88 L98.81 424.45 L98.9 425 L99.01 425.68 L99.12 426.39 L99.24 427.14 L99.35 427.95 L99.46 428.85 L99.58 429.84 L99.69 430.95 L99.8 432.2 L99.9 433.6 L100 435.38 L100.1 437.46 L100.2 439.76 L100.3 442.17 L100.4 444.63 L100.5 447.03 L100.6 449.3 L100.69 451.17 L100.77 453 L100.86 454.82 L100.95 456.66 L101.04 458.54 L101.12 460.49 L101.21 462.53 L101.3 464.7 L101.69 475.69 L102.08 488.47 L102.46 502.46 L102.85 517.06 L103.24 531.7 L103.62 545.79 L104.01 558.76 L104.4 570 L104.78 579.62 L105.15 588.75 L105.53 597.43 L105.9 605.66 L106.28 613.46 L106.65 620.86 L107.03 627.86 L107.4 634.5 L107.69 639.73 L107.98 645.3 L108.26 650.9 L108.55 656.2 L108.84 660.88 L109.12 664.62 L109.41 667.1 L109.7 668 L109.99 667.06 L110.28 664.48 L110.56 660.62 L110.85 655.83 L111.14 650.47 L111.42 644.89 L111.71 639.45 L112 634.5 L112.45 627.16 L112.9 619.52 L113.35 611.62 L113.8 603.52 L114.25 595.27 L114.7 586.89 L115.15 578.46 L115.6 570 L116.26 557.03 L116.92 543.26 L117.59 529.05 L118.25 514.79 L118.91 500.85 L119.58 487.61 L120.24 475.43 L120.9 464.7 L121.05 462.52 L121.2 460.46 L121.35 458.48 L121.5 456.58 L121.65 454.73 L121.8 452.91 L121.95 451.11 L122.1 449.3 L122.29 446.98 L122.47 444.61 L122.66 442.23 L122.85 439.9 L123.04 437.67 L123.22 435.61 L123.41 433.77 L123.6 432.2 L123.75 431.1 L123.9 430.05 L124.05 429.07 L124.2 428.16 L124.35 427.33 L124.5 426.57 L124.65 425.89 L124.8 425.3 L124.92 424.85 L125.05 424.43 L125.17 424.03 L125.3 423.67 L125.42 423.34 L125.55 423.04 L125.67 422.8 L125.8 422.6 L125.94 422.41 L126.08 422.23 L126.21 422.06 L126.35 421.91 L126.49 421.78 L126.62 421.69 L126.76 421.62 L126.9 421.6 L127.36 421.83 L127.83 422.5 L128.29 423.54 L128.75 424.88 L129.21 426.48 L129.68 428.27 L130.14 430.2 L130.6 432.2 L131.14 434.55 L131.68 436.89 L132.21 439.2 L132.75 441.45 L133.29 443.61 L133.82 445.66 L134.36 447.56 L134.9 449.3 L135.46 450.91 L136.03 452.31 L136.59 453.5 L137.15 454.47 L137.71 455.22 L138.28 455.76 L138.84 456.09 L139.4 456.2 L139.94 456.1 L140.47 455.8 L141.01 455.29 L141.55 454.56 L142.09 453.6 L142.62 452.41 L143.16 450.98 L143.7 449.3 L143.97 448.34 L144.25 447.34 L144.53 446.3 L144.8 445.24 L145.07 444.19 L145.35 443.15 L145.62 442.15 L145.9 441.2 L146.21 440.2 L146.53 439.27 L146.84 438.39 L147.15 437.56 L147.46 436.75 L147.78 435.95 L148.09 435.14 L148.4 434.3 L148.79 433.21 L149.18 432.09 L149.56 430.94 L149.95 429.79 L150.34 428.66 L150.72 427.57 L151.11 426.55 L151.5 425.6 L151.93 424.68 L152.35 423.87 L152.78 423.19 L153.2 422.64 L153.62 422.2 L154.05 421.88 L154.47 421.68 L154.9 421.6 L155.55 421.7 L156.2 422.03 L156.85 422.56 L157.5 423.23 L158.15 424.02 L158.8 424.87 L159.45 425.74 L160.1 426.6 L161.11 427.83 L162.12 428.91 L163.14 429.83 L164.15 430.57 L165.16 431.14 L166.17 431.53 L167.19 431.72 L168.2 431.7 L169.16 431.49 L170.12 431.12 L171.09 430.59 L172.05 429.95 L173.01 429.2 L173.97 428.38 L174.94 427.5 L175.9 426.6 L176.81 425.74 L177.72 424.89 L178.64 424.09 L179.55 423.36 L180.46 422.72 L181.38 422.2 L182.29 421.81 L183.2 421.6 L184.05 421.56 L184.9 421.67 L185.75 421.88 L186.6 422.18 L187.45 422.54 L188.3 422.93 L189.15 423.33 L190 423.7 L190.9 424.05 L191.8 424.34 L192.7 424.58 L193.6 424.76 L194.5 424.9 L195.4 424.98 L196.3 425.02 L197.2 425 L198.11 424.94 L199.02 424.83 L199.94 424.68 L200.85 424.49 L201.76 424.28 L202.68 424.04 L203.59 423.78 L204.5 423.5 L205.41 423.22 L206.32 422.93 L207.24 422.65 L208.15 422.38 L209.06 422.13 L209.98 421.91 L210.89 421.73 L211.8 421.6 L213.51 421.48 L215.23 421.51 L216.94 421.65 L218.65 421.87 L220.36 422.12 L222.07 422.36 L223.79 422.57 L225.5 422.7 L227.29 422.72 L229.07 422.64 L230.86 422.49 L232.65 422.3 L234.44 422.08 L236.23 421.88 L238.01 421.71 L239.8 421.6 L241.51 421.57 L243.23 421.61 L244.94 421.69 L246.65 421.81 L248.36 421.93 L250.07 422.05 L251.79 422.15 L253.5 422.2 L255.21 422.2 L256.93 422.15 L258.64 422.07 L260.35 421.97 L262.06 421.86 L263.77 421.75 L265.49 421.66 L267.2 421.6 L268.93 421.58 L270.65 421.59 L272.38 421.62 L274.1 421.67 L275.82 421.74 L277.55 421.8 L279.27 421.86 L281 421.9 L282.7 421.92 L284.4 421.92 L286.1 421.9 L287.8 421.87 L289.5 421.82 L291.2 421.75 L292.9 421.68 L294.6 421.6 L295.78 421.54 L296.95 421.5 L298.12 421.48 L299.3 421.51 L300.48 421.6 L301.65 421.77 L302.82 422.03 L304 422.4 L304.75 422.7 L305.5 423.06 L306.25 423.49 L307 424 L307.75 424.6 L308.5 425.29 L309.25 426.09 L310 427 L310.62 427.85 L311.25 428.79 L311.88 429.81 L312.5 430.9 L313.12 432.07 L313.75 433.31 L314.38 434.62 L315 436 L315.62 437.44 L316.25 438.95 L316.88 440.55 L317.5 442.23 L318.12 444 L318.75 445.89 L319.38 447.88 L320 450 L320.5 451.79 L321 453.65 L321.5 455.58 L322 457.57 L322.5 459.62 L323 461.71 L323.5 463.84 L324 466 L324.38 467.64 L324.75 469.3 L325.12 470.98 L325.5 472.7 L325.88 474.45 L326.25 476.25 L326.62 478.1 L327 480 L327.84 484.46 L328.68 489.2 L329.51 494.15 L330.35 499.28 L331.19 504.54 L332.02 509.9 L332.86 515.3 L333.7 520.7 L334.69 527.03 L335.68 533.32 L336.66 539.6 L337.65 545.87 L338.64 552.15 L339.62 558.48 L340.61 564.85 L341.6 571.3 L341.86 573.03 L342.12 574.76 L342.39 576.5 L342.65 578.25 L342.91 580 L343.18 581.76 L343.44 583.53 L343.7 585.3 L343.99 587.25 L344.27 589.2 L344.56 591.16 L344.85 593.12 L345.14 595.09 L345.43 597.06 L345.71 599.03 L346 601" fill="none" stroke="#4040a0" stroke-width="1.15" stroke-linejoin="round" clip-path="url(#cb)"/>
<circle cx="98.2" cy="421.5" r="2" fill="#f0101a"/>
<circle cx="126.8" cy="421.5" r="2" fill="#f0101a"/>
<circle cx="155" cy="421.5" r="2" fill="#f0101a"/>
<circle cx="183.2" cy="421.5" r="2" fill="#f0101a"/>
<circle cx="212" cy="421.5" r="2" fill="#f0101a"/>
<circle cx="240" cy="421.5" r="2" fill="#f0101a"/>
<circle cx="267.2" cy="421.5" r="2" fill="#f0101a"/>
<circle cx="294.6" cy="421.5" r="2" fill="#f0101a"/>
<text class="t" x="30.44" y="355.3" textLength="25.36" lengthAdjust="spacingAndGlyphs">0.001</text>
<text class="t" x="30.44" y="425.5" textLength="25.36" lengthAdjust="spacingAndGlyphs">0.000</text>
<text class="t" x="23.49" y="496.7" textLength="6.36" lengthAdjust="spacingAndGlyphs">−</text><text class="t" x="30.44" y="496.7" textLength="25.36" lengthAdjust="spacingAndGlyphs">0.001</text>
<text class="t" x="23.49" y="567.9" textLength="6.36" lengthAdjust="spacingAndGlyphs">−</text><text class="t" x="30.44" y="567.9" textLength="25.36" lengthAdjust="spacingAndGlyphs">0.002</text>
<text class="t" x="23.49" y="639.1" textLength="6.36" lengthAdjust="spacingAndGlyphs">−</text><text class="t" x="30.44" y="639.1" textLength="25.36" lengthAdjust="spacingAndGlyphs">0.003</text>
<text class="t" x="73.18" y="648.7" textLength="5.63" lengthAdjust="spacingAndGlyphs">2</text>
<text class="t" x="140.1" y="648.7" textLength="5.63" lengthAdjust="spacingAndGlyphs">4</text>
<text class="t" x="207.02" y="648.7" textLength="5.63" lengthAdjust="spacingAndGlyphs">6</text>
<text class="t" x="273.94" y="648.7" textLength="5.63" lengthAdjust="spacingAndGlyphs">8</text>
<text class="t" x="338.05" y="648.7" textLength="11.27" lengthAdjust="spacingAndGlyphs">10</text>
<text class="l" x="207.6" y="668.2" text-anchor="middle" textLength="144.7" lengthAdjust="spacingAndGlyphs">Trait of introduced species</text>
<text class="l" transform="translate(11.7 498.4) rotate(-90)" text-anchor="middle" textLength="165" lengthAdjust="spacingAndGlyphs">Invasion fitness (invasiveness)</text>
<text class="p" x="0.8" y="358" textLength="20.6" lengthAdjust="spacingAndGlyphs">(b)</text>
</svg></body></html>
